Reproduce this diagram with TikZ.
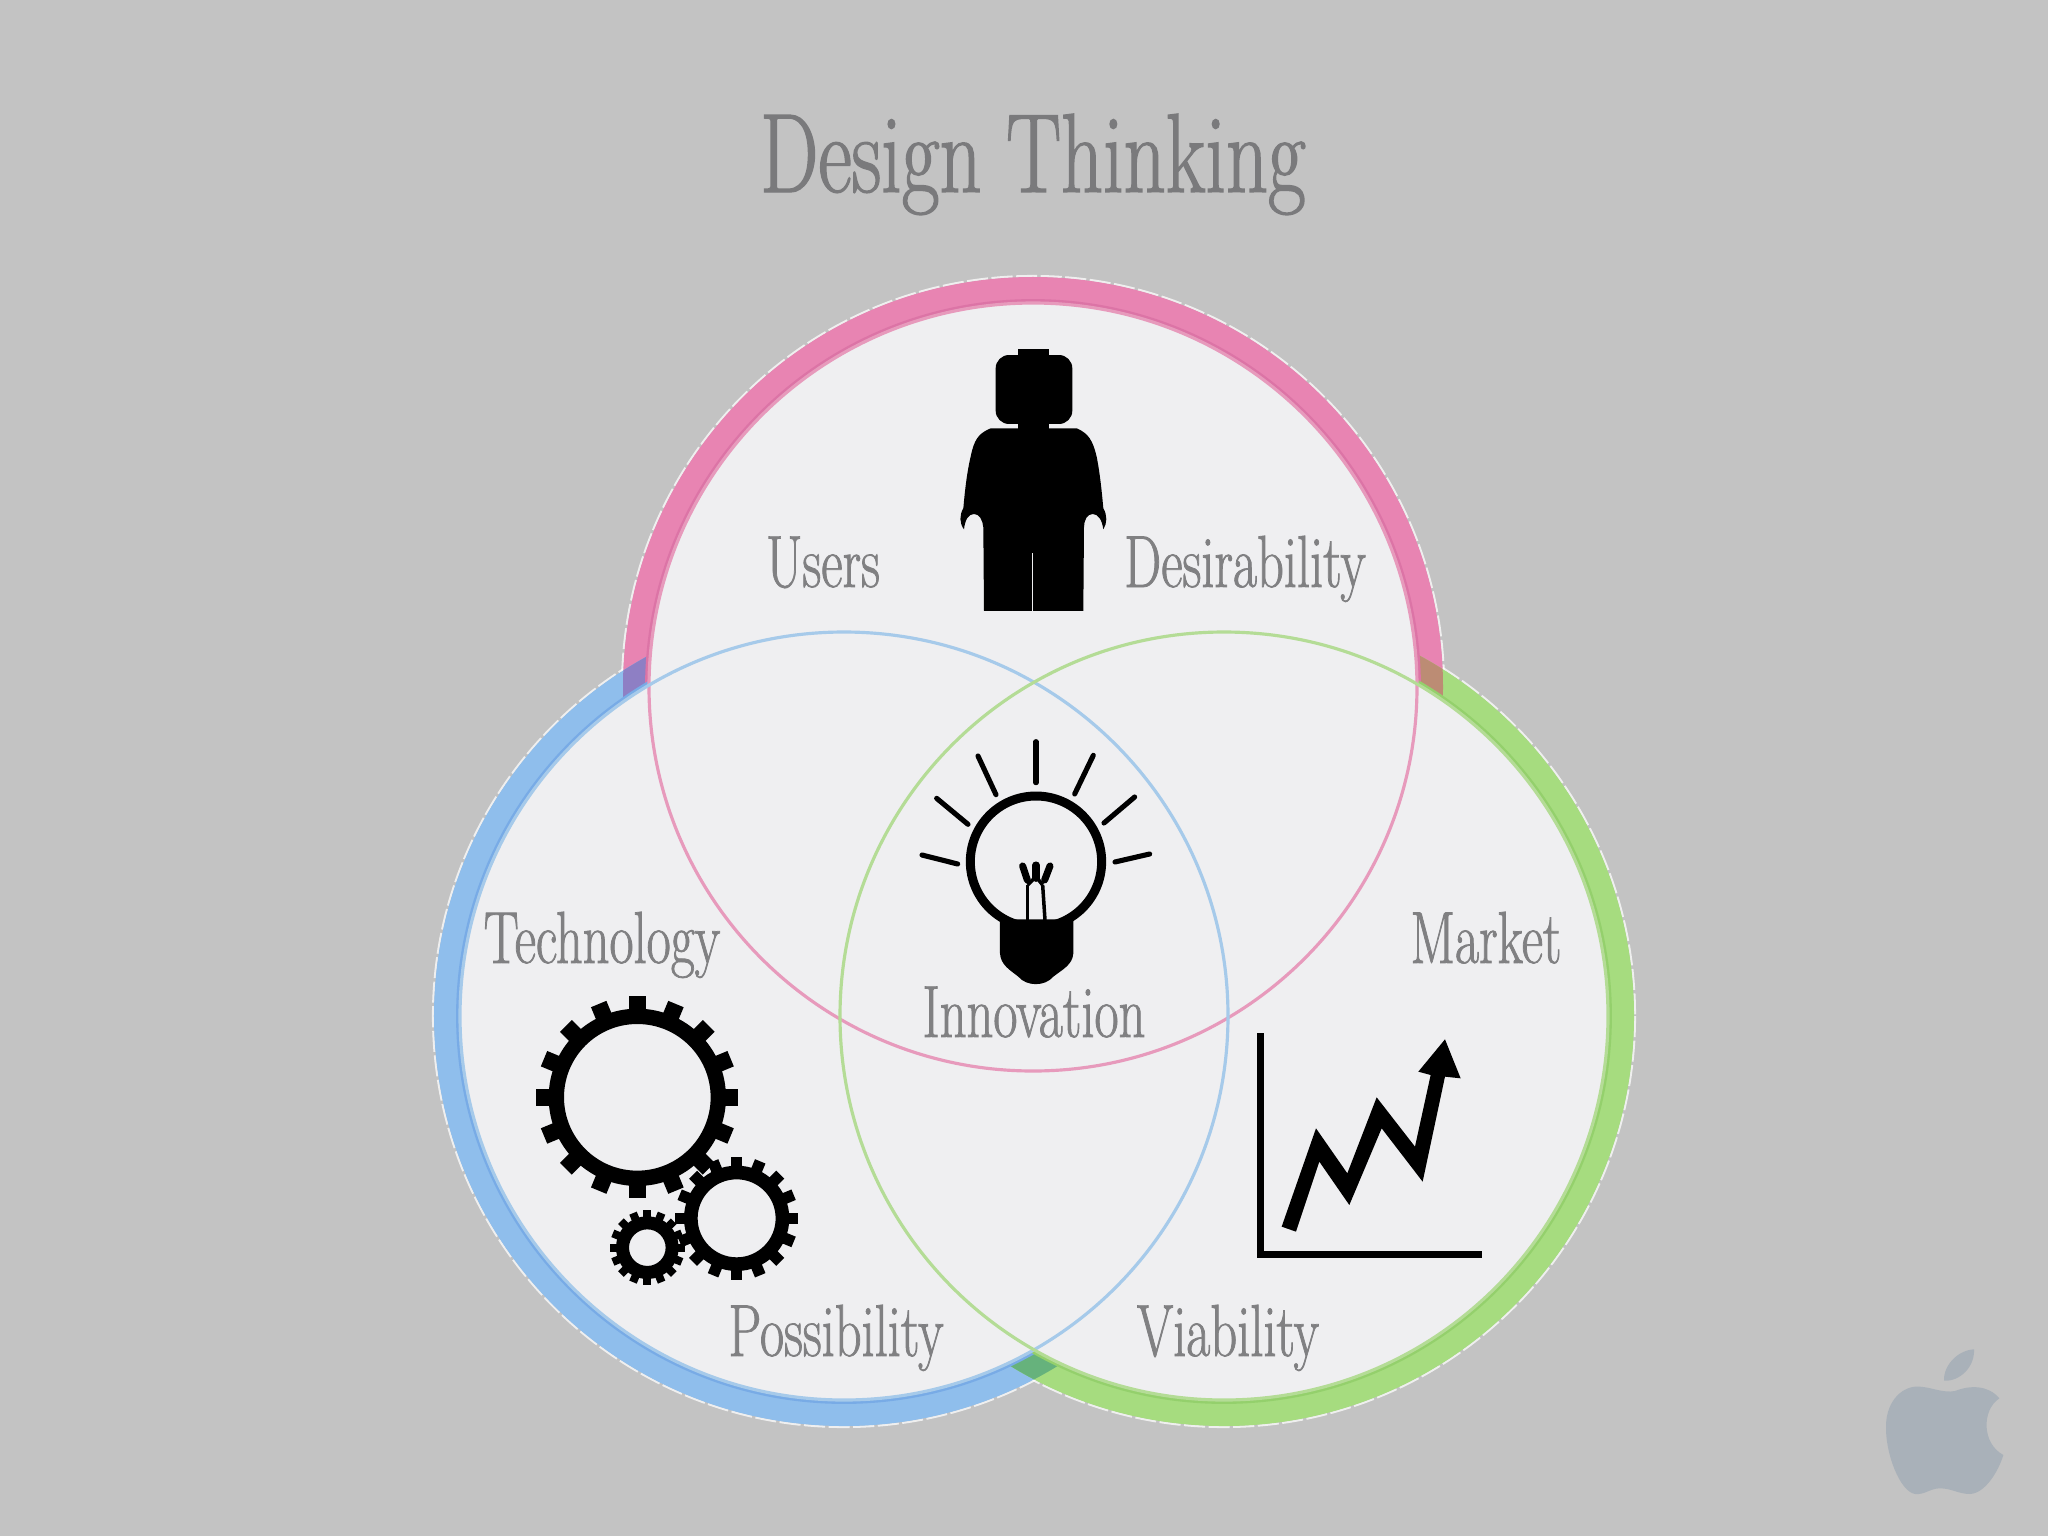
\documentclass[tikz,border=0pt]{standalone}
\usepackage{fontspec}
\newfontfamily\titlefont[FakeStretch=0.73, FakeBold=1.2]{Latin Modern Roman}
\newfontfamily\labelfont[FakeStretch=0.71, FakeBold=1.0]{Latin Modern Roman}
\definecolor{bggrey}{HTML}{C3C3C3}
\definecolor{discgrey}{HTML}{EFEFF1}
\definecolor{titlegrey}{HTML}{7A7A7C}
\definecolor{labelgrey}{HTML}{808082}
\definecolor{pinkring}{HTML}{E884B2}
\definecolor{bluering}{HTML}{8FBEEC}
\definecolor{greenring}{HTML}{A6DC7F}
\definecolor{pinkedge}{HTML}{DC74A6}
\definecolor{blueedge}{HTML}{78ABE6}
\definecolor{greenedge}{HTML}{94D06C}
\definecolor{pinkline}{HTML}{E79ABC}
\definecolor{blueline}{HTML}{A6CAEA}
\definecolor{greenline}{HTML}{B4DC96}
\definecolor{pinkblue}{HTML}{8E7FC4}
\definecolor{pinkgreen}{HTML}{BC8C74}
\definecolor{bluegreen}{HTML}{66B27C}
\definecolor{applegrey}{HTML}{A9B1B9}
\tikzset{
    ring/.style={line width=7.4pt},
    halo/.style={white, opacity=0.75, line width=0.6pt, dash pattern=on 6pt off 1pt},
    rimedge/.style={line width=1.1pt},
    thinline/.style={line width=0.9pt},
    word/.style={labelgrey, inner sep=0pt, anchor=base, font=\labelfont\fontsize{21}{21}\selectfont},
    ray/.style={line width=1.45pt, line cap=round}
}
\newcommand{\gearicon}[6]{% centre, hole radius, rim radius, tooth radius, tooth width
    \draw[line width=#3*0.0948pt-#2*0.0948pt] (#1) circle ({(#2+#3)/2});
    \foreach \a in {0,22.5,...,337.5}
        \draw[line width=#5*0.0948pt] (#1) ++(\a:#6) -- ++(\a:#4-#6);
}
\begin{document}
\begin{tikzpicture}[x=0.01cm, y=-0.01cm]
        \useasboundingbox (0, 0) rectangle (2048, 1536);
        \fill[bggrey] (0, 0) rectangle (2048, 1536);

        %circle centres
        \coordinate (top) at (1033, 687);
        \coordinate (left) at (844, 1016);
        \coordinate (right) at (1224, 1016);

        %white edge
        \draw[halo] (top) circle (411);
        \draw[halo] (left) circle (411);
        \draw[halo] (right) circle (411);

        %rings
        \draw[ring, pinkring] (top) circle (397);
        \draw[ring, bluering] (left) circle (397);
        \draw[ring, greenring] (right) circle (397);

        %ring overlaps
        \begin{scope}
            \clip (top) circle (410);
            \draw[ring, pinkblue] (left) circle (397);
            \draw[ring, pinkgreen] (right) circle (397);
        \end{scope}
        \begin{scope}
            \clip (left) circle (410);
            \draw[ring, bluegreen] (right) circle (397);
        \end{scope}

        %inner edge of the rings
        \draw[rimedge, pinkedge] (top) circle (386);
        \draw[rimedge, blueedge] (left) circle (386);
        \draw[rimedge, greenedge] (right) circle (386);

        %discs
        \fill[discgrey] (top) circle (384);
        \fill[discgrey] (left) circle (384);
        \fill[discgrey] (right) circle (384);
        \draw[thinline, pinkline] (top) circle (384);
        \draw[thinline, blueline] (left) circle (384);
        \draw[thinline, greenline] (right) circle (384);

        %texts
        \node[titlegrey, inner sep=0pt, anchor=base, font=\titlefont\fontsize{32}{32}\selectfont] (title) at (1033, 192) {Design Thinking};
        \node[word] (users) at (823, 587) {Users};
        \node[word] (desirability) at (1245, 587) {Desirability};
        \node[word] (technology) at (602, 963) {Technology};
        \node[word] (market) at (1486, 963) {Market};
        \node[word] (innovation) at (1034, 1037) {Innovation};
        \node[word] (possibility) at (836, 1356) {Possibility};
        \node[word] (viability) at (1228, 1356) {Viability};

        %person
        \begin{scope}[shift={(900, 320)}, scale=0.3333]
            \fill[rounded corners=3.8pt] (287, 105) rectangle (517, 312);
            \fill (355, 88) rectangle (447, 330);
            \fill (272, 325) -- (530, 325) .. controls (565, 340) and (578, 360) .. (590, 410)
                .. controls (600, 460) and (606, 520) .. (610, 565)
                .. controls (622, 585) and (622, 610) .. (610, 628)
                .. controls (606, 600) and (595, 582) .. (578, 582)
                .. controls (562, 582) and (552, 600) .. (552, 622) -- (550, 873) -- (252, 873) -- (250, 622)
                .. controls (248, 600) and (238, 582) .. (222, 582)
                .. controls (205, 582) and (195, 600) .. (192, 628)
                .. controls (178, 610) and (178, 585) .. (190, 565)
                .. controls (194, 520) and (200, 460) .. (212, 410)
                .. controls (222, 360) and (235, 340) .. (272, 325) -- cycle;
            \draw[discgrey, line width=0.3pt] (398, 700) -- (398, 873);
        \end{scope}

        %bulb
        \begin{scope}[shift={(890, 720)}, scale=0.3333]
            \draw[line width=2.56pt] (438, 425) circle (197);
            \fill (330, 598) -- (550, 598) -- (550, 700) .. controls (548, 735) and (515, 750) .. (490, 770)
                .. controls (465, 800) and (410, 800) .. (385, 770) .. controls (360, 750) and (332, 735) .. (330, 700) -- cycle;
            \draw[line width=1pt] (413, 600) -- (413, 495);
            \draw[line width=1pt] (465, 600) -- (458, 495);
            \draw[line width=1pt] (413, 495) -- (438, 470) -- (458, 495);
            \draw[line width=2pt, line cap=round] (398, 438) -- (412, 480);
            \draw[line width=2pt, line cap=round] (438, 435) -- (438, 475);
            \draw[line width=2pt, line cap=round] (480, 438) -- (464, 480);
            \draw[ray] (438, 65) -- (438, 188);
            \draw[ray] (264, 108) -- (318, 224);
            \draw[ray] (610, 106) -- (554, 222);
            \draw[ray] (140, 235) -- (234, 313);
            \draw[ray] (734, 231) -- (642, 309);
            \draw[ray] (96, 405) -- (203, 432);
            \draw[ray] (779, 402) -- (675, 426);
        \end{scope}

        %gears
        \begin{scope}[shift={(520, 980)}, scale=0.3333]
            \gearicon{352, 352}{220}{266}{303}{50}{240}
            \gearicon{650, 715}{117}{158}{185}{34}{140}
            \gearicon{382, 803}{55}{94}{112}{24}{80}
        \end{scope}

        %chart
        \begin{scope}[shift={(1230, 1010)}, scale=0.3333]
            \fill (81, 68) rectangle (103, 744);
            \fill (81, 722) rectangle (755, 744);
            \fill (155, 650) -- (258, 355) -- (352, 490) -- (440, 262) -- (555, 410) -- (602, 195) -- (565, 185)
                -- (645, 88) -- (692, 205) -- (645, 200) -- (578, 515) -- (455, 355) -- (358, 585) -- (268, 455)
                -- (198, 665) -- cycle;
        \end{scope}

        %apple
        \begin{scope}[shift={(1860, 1330)}, scale=0.3333]
            \fill[applegrey] (285, 183) .. controls (330, 165) and (385, 165) .. (418, 205)
                .. controls (365, 240) and (365, 340) .. (430, 375)
                .. controls (415, 425) and (375, 490) .. (330, 492)
                .. controls (295, 492) and (275, 475) .. (240, 475)
                .. controls (210, 475) and (195, 495) .. (165, 492)
                .. controls (120, 485) and (75, 370) .. (78, 285)
                .. controls (80, 210) and (130, 165) .. (180, 170)
                .. controls (215, 172) and (250, 190) .. (285, 183) -- cycle;
            \fill[applegrey] (342, 58) .. controls (345, 110) and (300, 155) .. (252, 152)
                .. controls (250, 105) and (295, 60) .. (342, 58) -- cycle;
        \end{scope}
    \end{tikzpicture}
\end{document}
